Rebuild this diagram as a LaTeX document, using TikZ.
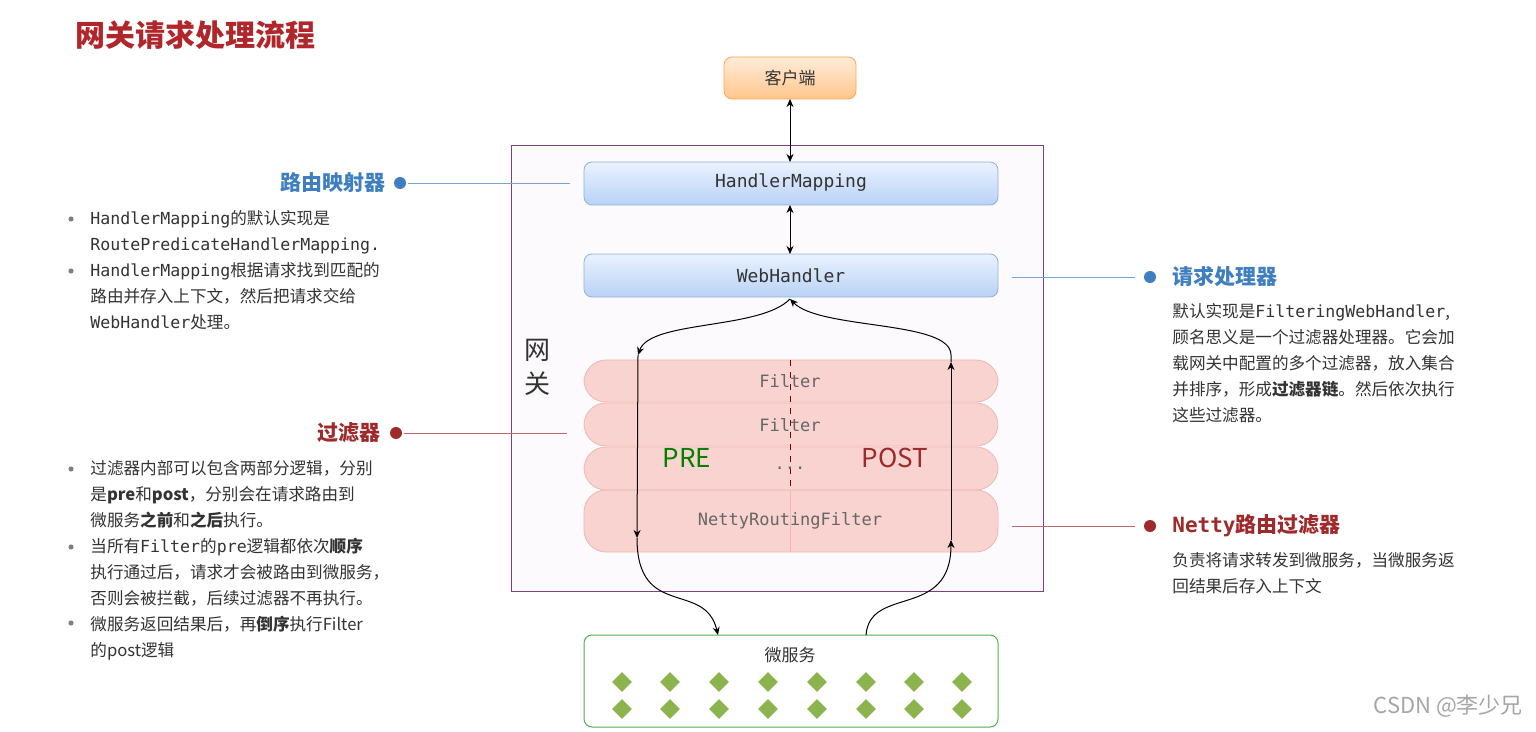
\documentclass[tikz,border=0pt]{standalone}
\usepackage{fontspec}
\setmainfont{Noto Sans CJK SC}
\setmonofont{DejaVu Sans Mono}
\usetikzlibrary{shapes.geometric,arrows.meta,shadows}
\definecolor{ttl}{HTML}{B0262A}
\definecolor{blu}{HTML}{3F7FC0}
\definecolor{drd}{HTML}{9E2A2B}
\definecolor{txt}{HTML}{333333}
\definecolor{bltop}{HTML}{EAF2FF}
\definecolor{blbot}{HTML}{B9D2F5}
\definecolor{bldr}{HTML}{8FB0E0}
\definecolor{fred}{HTML}{F9D3CF}
\definecolor{fredd}{HTML}{F0B8B2}
\definecolor{dgr}{HTML}{8CB44E}
\newcommand{\m}[1]{\texttt{#1}}
\begin{document}
\begin{tikzpicture}[x=0.5pt,y=-0.5pt,
 fil/.style={draw=fredd, fill=fred, rounded corners=11pt, line width=0.4pt},
 bt/.style={anchor=north west, align=left, font=\fontsize{8.3}{13}\selectfont, text=txt, inner sep=0pt},
 lab/.style={font=\fontsize{10.5}{12}\selectfont\bfseries, inner sep=0pt},
 arr/.style={-{Stealth[length=4pt,width=3.5pt]}, line width=0.5pt},
 dia/.style={diamond, fill=dgr, minimum size=10pt, inner sep=0pt}]
\useasboundingbox (0,0) rectangle (1536,732);
\fill[white] (0,0) rectangle (1536,732);
\node[anchor=west, text=ttl, font=\fontsize{15}{16}\selectfont\bfseries] (title) at (68,35) {网关请求处理流程};
% gateway frame
\node[draw=violet!50!gray, fill=violet!2, line width=0.5pt, minimum width=266pt, minimum height=223pt, anchor=north west, inner sep=0pt] (gw) at (511,145) {};
\node[font=\fontsize{13}{17}\selectfont, align=center, text=txt] (gwl) at (537,367) {网\\关};
% client
\shade[top color=orange!15, bottom color=orange!45, draw=orange!70, rounded corners=4pt] (724,57) rectangle (856,99);
\node[font=\fontsize{8.5}{10}\selectfont, text=txt] (client) at (790,78) {客户端};
\coordinate (cb) at (790,99);
% HandlerMapping
\shade[top color=bltop, bottom color=blbot, draw=bldr, rounded corners=4pt] (584,162) rectangle (998,205);
\node[font=\ttfamily\fontsize{9}{10}\selectfont, text=txt] (hm) at (791,183) {HandlerMapping};
\coordinate (hmt) at (790,162); \coordinate (hmb) at (790,205);
\shade[top color=bltop, bottom color=blbot, draw=bldr, rounded corners=4pt] (584,254) rectangle (998,297);
\node[font=\ttfamily\fontsize{9}{10}\selectfont, text=txt] (wh) at (791,276) {WebHandler};
\coordinate (wht) at (790,254); \coordinate (whb) at (790,299);
% filters
\draw[fil] (584,490) rectangle (998,552);
\draw[fil] (584,447) rectangle (998,490);
\draw[fil] (584,403) rectangle (998,446);
\draw[fil] (584,360) rectangle (998,402);
\draw[red!50!black, dashed, line width=0.4pt] (790,360) -- (790,490);
\draw[fredd, line width=0.4pt] (790,490) -- (790,552);
\node[font=\ttfamily\fontsize{8.5}{10}\selectfont, text=gray!80!black] (f1) at (790,381) {Filter};
\node[font=\ttfamily\fontsize{8.5}{10}\selectfont, text=gray!80!black] (f2) at (790,425) {Filter};
\node[font=\ttfamily\fontsize{8.5}{10}\selectfont, text=gray!80!black] (f3) at (790,468) {...};
\node[font=\ttfamily\fontsize{8.5}{10}\selectfont, text=gray!80!black] (nf) at (790,521) {NettyRoutingFilter};
\node[font=\fontsize{13}{14}\selectfont, text=green!50!black] (pre) at (687,458) {PRE};
\node[font=\fontsize{13}{14}\selectfont, text=drd] (post) at (895,458) {POST};
% microservice
\draw[draw=green!40!gray, fill=white, rounded corners=4pt, line width=0.5pt] (584,635) rectangle (998,727);
\node[font=\fontsize{8.5}{10}\selectfont, text=txt] (ms) at (790,655) {微服务};
\foreach \x in {622,670,719,768,817,866,914,962}{
 \node[dia] at (\x,682) {}; \node[dia] at (\x,709) {};}
% arrows
\draw[{Stealth[length=4pt,width=3.5pt]}-{Stealth[length=4pt,width=3.5pt]}, line width=0.5pt] (cb) -- (hmt);
\draw[{Stealth[length=4pt,width=3.5pt]}-{Stealth[length=4pt,width=3.5pt]}, line width=0.5pt] (hmb) -- (wht);
\coordinate (l1) at (638,355); \coordinate (l2) at (637,538); \coordinate (l3) at (718,635);
\coordinate (r1) at (866,635); \coordinate (r2) at (951,540); \coordinate (r3) at (951,362);
\draw[arr] (whb) .. controls (760,330) and (650,320) .. (l1);
\draw[arr] (l1) -- (l2);
\draw[arr] (l2) .. controls (637,620) and (705,580) .. (l3);
\draw[arr] (r1) .. controls (870,585) and (951,620) .. (r2);
\draw[arr] (r2) -- (r3);
\draw[arr] (951,362) -- (951,355) .. controls (951,320) and (820,330) .. (whb);
% left labels
\node[lab, text=blu, anchor=east] (rl) at (386,183) {路由映射器};
\fill[blu] (400,183) circle (3pt);
\draw[blu!70, line width=0.4pt] (408,183) -- (570,183);
\foreach \y in {219,271} \fill[gray] (71,\y) circle (1.3pt);
\node[bt] (b1) at (90,210) {\m{HandlerMapping}的默认实现是\\
\m{RoutePredicateHandlerMapping.}\\
\m{HandlerMapping}根据请求找到匹配的\\
路由并存入上下文，然后把请求交给\\
\m{WebHandler}处理。};
\node[lab, text=drd, anchor=east] (fl) at (381,433) {过滤器};
\fill[drd] (396,433) circle (3pt);
\draw[drd!70, line width=0.4pt] (404,433) -- (567,433);
\foreach \y in {469,547,623} \fill[gray] (71,\y) circle (1.3pt);
\node[bt] (b2) at (90,460) {过滤器内部可以包含两部分逻辑，分别\\
是\textbf{pre}和\textbf{post}，分别会在请求路由到\\
微服务\textbf{之前}和\textbf{之后}执行。\\
当所有\m{Filter}的\m{pre}逻辑都依次\textbf{顺序}\\
执行通过后，请求才会被路由到微服务，\\
否则会被拦截，后续过滤器不再执行。\\
微服务返回结果后，再\textbf{倒序}执行Filter\\
的post逻辑};
% right labels
\draw[blu!70, line width=0.4pt] (1012,277) -- (1135,277);
\fill[blu] (1150,277) circle (3pt);
\node[lab, text=blu, anchor=west] (ql) at (1172,277) {请求处理器};
\node[bt] (b3) at (1172,303) {默认实现是\m{FilteringWebHandler},\\
顾名思义是一个过滤器处理器。它会加\\
载网关中配置的多个过滤器，放入集合\\
并排序，形成\textbf{过滤器链}。然后依次执行\\
这些过滤器。};
\draw[drd!70, line width=0.4pt] (1012,526) -- (1135,526);
\fill[drd] (1150,526) circle (3pt);
\node[lab, text=drd, anchor=west] (nl) at (1172,526) {\m{Netty}路由过滤器};
\node[bt] (b4) at (1172,552) {负责将请求转发到微服务，当微服务返\\
回结果后存入上下文};
\node[anchor=east, text=gray!70, font=\fontsize{11}{12}\selectfont] (wm) at (1530,706) {CSDN @李少兄};
\end{tikzpicture}
\end{document}
